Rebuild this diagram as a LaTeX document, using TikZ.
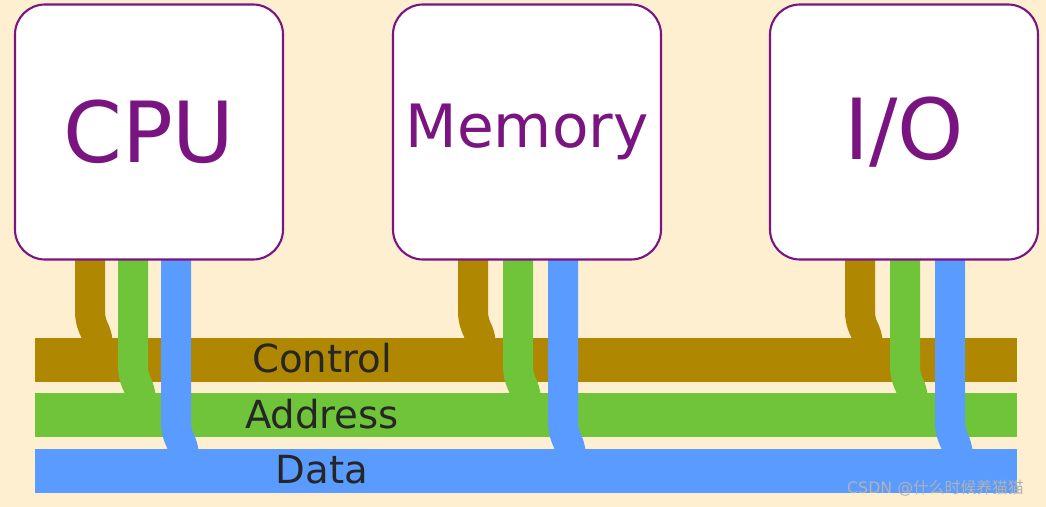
\documentclass[tikz,border=0pt]{standalone}
\usepackage{fontspec}
\setmainfont{DejaVu Sans}
\newfontfamily\cjk{Noto Sans CJK SC}
\begin{document}
\definecolor{bg}{HTML}{FDEFD0}
\definecolor{ctl}{HTML}{AF8700}
\definecolor{adr}{HTML}{6FC43A}
\definecolor{dat}{HTML}{5A9BFF}
\definecolor{pur}{HTML}{7A1480}
\begin{tikzpicture}[x=0.02cm,y=-0.02cm,
  box/.style={draw=pur,line width=1.2pt,fill=white,rounded corners=0.6cm,minimum width=268*0.02cm,minimum height=255*0.02cm,inner sep=0pt},
  bus/.style={minimum width=982*0.02cm,minimum height=44*0.02cm,inner sep=0pt},
  stripe/.style={line width=30*0.02cm,rounded corners=0.15cm},
  lbl/.style={font=\fontsize{22}{22}\selectfont,text=black!85}]
\fill[bg] (0,0) rectangle (1046,507);
\useasboundingbox (0,0) rectangle (1046,507);
\node[bus,fill=ctl] (ctlbus) at (526,360) {};
\node[bus,fill=adr] (adrbus) at (526,415) {};
\node[bus,fill=dat] (datbus) at (526,471) {};
\node[lbl] (lc) at (322,358) {Control};
\node[lbl] (la) at (322,414) {Address};
\node[lbl] (ld) at (322,470) {Data};
\foreach \c in {90,473,860}{
  \draw[stripe,ctl] (\c,255) -- (\c,320) -- (\c+8,338) -- (\c+8,360);}
\foreach \c in {133,518,905}{
  \draw[stripe,adr] (\c,255) -- (\c,375) -- (\c+8,393) -- (\c+8,415);}
\foreach \c in {176,563,950}{
  \draw[stripe,dat] (\c,255) -- (\c,431) -- (\c+8,449) -- (\c+8,471);}
\node[box] (cpu) at (149,132) {\fontsize{48}{48}\selectfont\color{pur}CPU};
\node[box] (mem) at (527,132) {\fontsize{34}{34}\selectfont\color{pur}Memory};
\node[box] (io) at (904,132) {\fontsize{48}{48}\selectfont\color{pur}I/O};
\node[anchor=east,text=gray!60,font=\fontsize{9}{9}\selectfont] (wm) at (1030,488) {CSDN @{\cjk 什么时候养猫猫}};
\end{tikzpicture}
\end{document}
